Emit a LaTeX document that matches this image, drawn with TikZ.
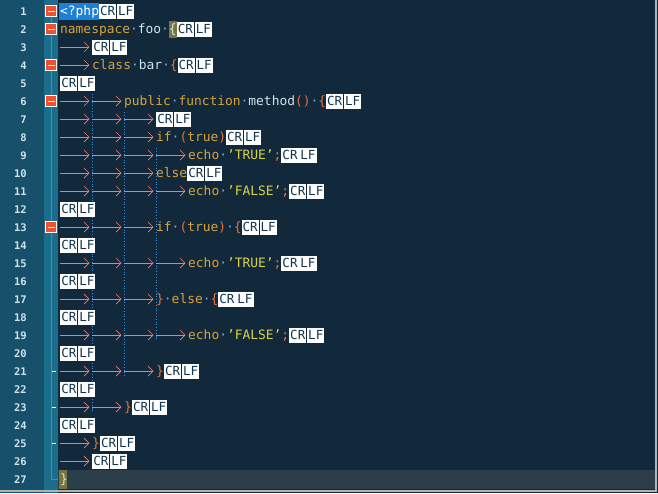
\documentclass[tikz,border=0pt]{standalone}
\usepackage{fontspec}
\setmonofont{DejaVu Sans Mono}
\setmainfont{DejaVu Sans Mono}
\definecolor{bg}{HTML}{11293A}
\definecolor{numbg}{HTML}{17506A}
\definecolor{marg}{HTML}{1B6D8C}
\definecolor{kw}{HTML}{D9A23E}
\definecolor{idc}{HTML}{CFE3EC}
\definecolor{pun}{HTML}{E8703A}
\definecolor{str}{HTML}{D6D34A}
\definecolor{dotc}{HTML}{6AB0E0}
\definecolor{tabc}{HTML}{F07C72}
\definecolor{guide}{HTML}{3A90E0}
\definecolor{crt}{HTML}{12344A}
\definecolor{curl}{HTML}{2B3E4A}
\definecolor{olive}{HTML}{77753A}
\definecolor{sel}{HTML}{1E80D4}
\definecolor{fold}{HTML}{F0502E}
\newcommand\K[1]{\textcolor{kw}{#1}}
\newcommand\I[1]{\textcolor{idc}{#1}}
\newcommand\Pn[1]{\textcolor{pun}{#1}}
\newcommand\St[1]{\textcolor{str}{\symbol{39}#1\symbol{39}}}
\newcommand\D{\textcolor{dotc}{·}}
\newcommand\crbox[1]{{\setlength\fboxsep{0.6pt}\colorbox{white}{\makebox[16pt]{\rule[-3pt]{0pt}{14pt}\textcolor{crt}{\fontsize{12.5}{12.5}\selectfont #1}}}}}
\newcommand\crlf{\crbox{CR}\hspace{0.8pt}\crbox{LF}}
\begin{document}
\begin{tikzpicture}[x=1pt,y=-1pt,
  code/.style={anchor=base west,inner sep=0pt,font=\fontsize{12.9}{13}\selectfont},
  num/.style={anchor=base east,inner sep=0pt,font=\fontsize{10.5}{11}\selectfont\bfseries,text=idc},
  tabarrow/.style={draw=tabc,line width=0.7pt},
  guideline/.style={draw=guide,dotted,line width=0.8pt}]
\useasboundingbox (0,0) rectangle (658,493);
\fill[bg] (0,0) rectangle (658,493);
\fill[numbg] (0,0) rectangle (44,493);
\fill[marg] (44,0) rectangle (58,493);
\fill[curl] (58,470) rectangle (655,489);
\draw[gray!60,line width=1.5pt] (656,0) -- (656,491) -- (0,491);
\foreach \n in {1,...,27} {
  \node[num] (n\n) at (27,{11+18*(\n-1)+4}) {\n};
}
\draw[fold,line width=0.8pt] (51,11) -- (51,479) -- (58,479);
\foreach \n in {21,23,25} \draw[white,line width=0.8pt] (52,{11+18*(\n-1)}) -- (56,{11+18*(\n-1)});
\foreach \n in {1,2,4,6,13} {
  \node[draw=white,fill=fold,minimum size=11pt,inner sep=0pt,line width=0.6pt] (f\n) at (51,{11+18*(\n-1)}) {};
  \draw[white,line width=1pt] (47.5,{11+18*(\n-1)}) -- (54.5,{11+18*(\n-1)});
}
\draw[guideline] (92,94) -- (92,412);
\draw[guideline] (124,112) -- (124,376);
\draw[guideline] (156,148) -- (156,340);
\foreach \n/\k in {3/1,4/1,6/2,7/3,8/3,9/4,10/3,11/4,13/3,15/4,17/3,19/4,21/3,23/2,25/1,26/1} {
  \foreach \t in {1,...,\k} {
    \pgfmathsetmacro\xa{60+32*(\t-1)}
    \pgfmathsetmacro\yy{11+18*(\n-1)}
    \draw[tabarrow] (\xa,\yy) -- (\xa+29,\yy);
    \draw[tabarrow] (\xa+24,\yy-5) -- (\xa+29,\yy) -- (\xa+24,\yy+5);
  }
}
\fill[sel] (59,3) rectangle (99,20);
\node[code] (l1) at (60,15.5) {\textcolor{white}{<?php}\crlf};
\fill[olive] (168.5,21) rectangle (177,38);
\node[code] (l2) at (60,33.5) {\K{namespace}\D\I{foo}\D\I{\{}\crlf};
\node[code] (l3) at (92,51.5) {\crlf};
\node[code] (l4) at (92,69.5) {\K{class}\D\I{bar}\D\Pn{\{}\crlf};
\node[code] (l5) at (60,87.5) {\crlf};
\node[code] (l6) at (124,105.5) {\K{public}\D\K{function}\D\I{method}\Pn{()}\D\Pn{\{}\crlf};
\node[code] (l7) at (156,123.5) {\crlf};
\node[code] (l8) at (156,141.5) {\K{if}\D\Pn{(}\K{true}\Pn{)}\crlf};
\node[code] (l9) at (188,159.5) {\K{echo}\D\St{TRUE}\Pn{;}\crlf};
\node[code] (l10) at (156,177.5) {\K{else}\crlf};
\node[code] (l11) at (188,195.5) {\K{echo}\D\St{FALSE}\Pn{;}\crlf};
\node[code] (l12) at (60,213.5) {\crlf};
\node[code] (l13) at (156,231.5) {\K{if}\D\Pn{(}\K{true}\Pn{)}\D\Pn{\{}\crlf};
\node[code] (l14) at (60,249.5) {\crlf};
\node[code] (l15) at (188,267.5) {\K{echo}\D\St{TRUE}\Pn{;}\crlf};
\node[code] (l16) at (60,285.5) {\crlf};
\node[code] (l17) at (156,303.5) {\Pn{\}}\D\K{else}\D\Pn{\{}\crlf};
\node[code] (l18) at (60,321.5) {\crlf};
\node[code] (l19) at (188,339.5) {\K{echo}\D\St{FALSE}\Pn{;}\crlf};
\node[code] (l20) at (60,357.5) {\crlf};
\node[code] (l21) at (156,375.5) {\Pn{\}}\crlf};
\node[code] (l22) at (60,393.5) {\crlf};
\node[code] (l23) at (124,411.5) {\Pn{\}}\crlf};
\node[code] (l24) at (60,429.5) {\crlf};
\node[code] (l25) at (92,447.5) {\Pn{\}}\crlf};
\node[code] (l26) at (92,465.5) {\crlf};
\fill[olive] (59,470) rectangle (67,489);
\node[code] (l27) at (60,483.5) {\I{\}}};
\end{tikzpicture}
\end{document}
